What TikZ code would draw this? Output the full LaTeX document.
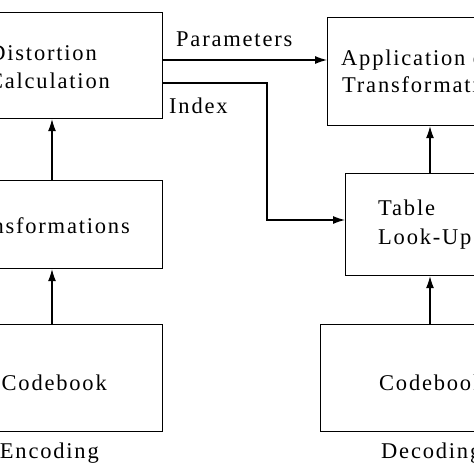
\documentclass[tikz,border=0pt]{standalone}
\usepackage{fontspec}
\setmainfont{Liberation Serif}[LetterSpace=8]
\usetikzlibrary{arrows.meta}
\begin{document}
\begin{tikzpicture}[x=1pt,y=-1pt,
  box/.style={draw,line width=1.2pt,inner sep=0pt,minimum width=#1},
  lbl/.style={inner sep=0pt,font=\fontsize{22.5}{27}\selectfont},
  conn/.style={line width=1.1pt},
  arr/.style={conn,-{Latex[length=12pt,width=8pt]}}]
\useasboundingbox (0,0) rectangle (474,474);
\clip (0,0) rectangle (474,474);
% boxes (corner coordinates in picture pixels)
\node[box=223pt,minimum height=106pt,anchor=north east] (dist)  at (163,12)  {};
\node[box=223pt,minimum height=88pt, anchor=north east] (trans) at (163,180) {};
\node[box=223pt,minimum height=107pt,anchor=north east] (codeA) at (163,324) {};
\node[box=213pt,minimum height=108pt,anchor=north west] (app)   at (327,17)  {};
\node[box=195pt,minimum height=102pt,anchor=north west] (table) at (345,173) {};
\node[box=220pt,minimum height=107pt,anchor=north west] (codeB) at (320,324) {};
% texts
\node[lbl,anchor=base east] (t1) at (97,60)  {Distortion};
\node[lbl,anchor=base east] (t2) at (110,88) {Calculation};
\node[lbl,anchor=base east] (t3) at (130,233) {Transformations};
\node[lbl,anchor=base east] (t4) at (107,390) {Codebook};
\node[lbl,anchor=base east] (t5) at (99,458) {Encoding};
\node[lbl,anchor=base west] (t6) at (341,65) {Application of};
\node[lbl,anchor=base west] (t7) at (342,92) {Transformations};
\node[lbl,anchor=base west] (t8) at (378,215) {Table};
\node[lbl,anchor=base west] (t9) at (378,244) {Look-Up};
\node[lbl,anchor=base west] (t10) at (379,390) {Codebook};
\node[lbl,anchor=base west] (t11) at (381,458) {Decoding};
\node[lbl,anchor=base west] (pl) at (176,46) {Parameters};
\node[lbl,anchor=base west] (il) at (169,113) {Index};
% connectors
\draw[arr] (trans.north -| 52,0) -- (dist.south -| 52,0);
\draw[arr] (codeA.north -| 52,0) -- (trans.south -| 52,0);
\draw[arr] (table.north -| 430,0) -- (app.south -| 430,0);
\draw[arr] (codeB.north -| 430,0) -- (table.south -| 430,0);
\draw[arr] (dist.east |- 0,60) -- (app.west |- 0,60);
\coordinate (ia) at (267,83);
\coordinate (ib) at (267,220);
\draw[arr] (dist.east |- ia) -- (ia) -- (ib) -- (table.west |- ib);
\end{tikzpicture}
\end{document}
